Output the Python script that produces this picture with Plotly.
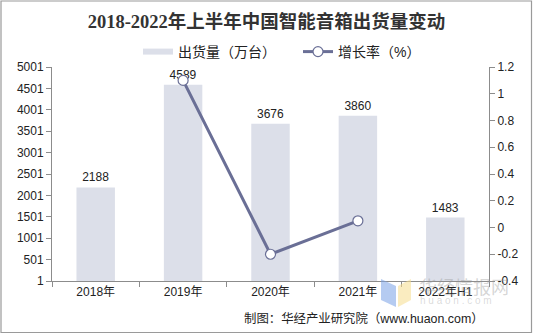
import plotly.graph_objects as go

# Shipments of smart speakers in China, H1 data for 2022
years = ["2018年", "2019年", "2020年", "2021年", "2022年H1"]
shipments = [2188, 4589, 3676, 3860, 1483]          # 万台
growth = [None, 1.10, -0.20, 0.05, None]             # 增长率

left_ticks = [1, 501, 1001, 1501, 2001, 2501, 3001, 3501, 4001, 4501, 5001]
right_ticks = [-0.4, -0.2, 0, 0.2, 0.4, 0.6, 0.8, 1, 1.2]
right_labels = ["-0.4", "-0.2", "0", "0.2", "0.4", "0.6", "0.8", "1", "1.2"]

W, H = 533, 334
L, R, T, B = 52, 44, 67, 53
pw, ph = W - L - R, H - T - B

FONT = "Liberation Sans, Arial, Noto Sans CJK SC, sans-serif"
BAR_COLOR = "#dcdfe9"
LINE_COLOR = "#6a6f96"
AXIS_COLOR = "#8c8c8c"

fig = go.Figure()

fig.add_trace(go.Bar(
    x=years, y=shipments, name="出货量（万台）", showlegend=False,
    marker=dict(color=BAR_COLOR, line=dict(width=0)),
    width=0.44,
    text=[str(v) for v in shipments], textposition="outside",
    textfont=dict(size=12, color="#222222", family=FONT),
    cliponaxis=False,
))

# flat swatch for the bar series in the legend
fig.add_trace(go.Scatter(
    x=[None], y=[None], name="出货量（万台）", mode="lines", legend="legend",
    line=dict(color=BAR_COLOR, width=6),
))

fig.add_trace(go.Scatter(
    x=years, y=growth, name="增长率（%）", yaxis="y2", legend="legend2",
    mode="lines+markers", connectgaps=False,
    line=dict(color=LINE_COLOR, width=3),
    marker=dict(size=10, color="white", line=dict(color=LINE_COLOR, width=1.2)),
))

def px_to_paper_x(px):
    return (px - L) / pw

def px_to_paper_y(py):
    return (H - B - py) / ph

shapes = [
    # outer frame
    dict(type="rect", xref="paper", yref="paper",
         x0=px_to_paper_x(1), x1=px_to_paper_x(531.5),
         y0=px_to_paper_y(332.5), y1=px_to_paper_y(1),
         line=dict(color="#9a9a9a", width=1.2), fillcolor="rgba(0,0,0,0)", layer="below"),
    # watermark logo blocks
    dict(type="path", xref="paper", yref="paper",
         path=f"M {px_to_paper_x(381)},{px_to_paper_y(279)} L {px_to_paper_x(396)},{px_to_paper_y(286)} "
              f"L {px_to_paper_x(396)},{px_to_paper_y(307)} L {px_to_paper_x(381)},{px_to_paper_y(300)} Z",
         fillcolor="rgba(120,160,230,0.55)", line=dict(width=0), layer="above"),
    dict(type="path", xref="paper", yref="paper",
         path=f"M {px_to_paper_x(398)},{px_to_paper_y(286)} L {px_to_paper_x(411)},{px_to_paper_y(279)} "
              f"L {px_to_paper_x(411)},{px_to_paper_y(300)} L {px_to_paper_x(398)},{px_to_paper_y(307)} Z",
         fillcolor="rgba(245,220,140,0.55)", line=dict(width=0), layer="above"),
]

annotations = [
    dict(text="制图：华经产业研究院（www.huaon.com）", xref="paper", yref="paper",
         x=px_to_paper_x(486), y=px_to_paper_y(318), xanchor="right", yanchor="middle",
         showarrow=False, font=dict(size=12.4, color="#222222", family=FONT)),
    dict(text="华经情报网", xref="paper", yref="paper",
         x=px_to_paper_x(417), y=px_to_paper_y(286), xanchor="left", yanchor="middle",
         showarrow=False, font=dict(size=18, color="rgba(150,150,150,0.4)",
                                    family="Noto Sans CJK SC, sans-serif")),
    dict(text="h u a o n . c o m", xref="paper", yref="paper",
         x=px_to_paper_x(418), y=px_to_paper_y(300), xanchor="left", yanchor="middle",
         showarrow=False, font=dict(size=10, color="rgba(150,150,150,0.35)", family=FONT)),
]

legend_style = dict(orientation="h", yanchor="middle", y=px_to_paper_y(52),
                    xanchor="left", font=dict(size=14, color="#222222", family=FONT),
                    itemwidth=30, bgcolor="rgba(0,0,0,0)")

fig.update_layout(
    width=W, height=H,
    margin=dict(l=L, r=R, t=T, b=B),
    paper_bgcolor="white", plot_bgcolor="white",
    font=dict(family=FONT, size=12, color="#222222"),
    title=dict(text="<b>2018-2022年上半年中国智能音箱出货量变动</b>",
               x=0.5, xanchor="center", y=1 - 22 / H, yanchor="middle",
               font=dict(size=18.5, color="#333333",
                         family="Liberation Serif, Noto Sans CJK SC, serif")),
    showlegend=True,
    legend=dict(x=px_to_paper_x(138), **legend_style),
    legend2=dict(x=px_to_paper_x(298), **legend_style),
    bargap=0.56,
    xaxis=dict(showline=True, linecolor=AXIS_COLOR, linewidth=1,
               ticks="outside", tickson="boundaries", ticklen=5, tickcolor=AXIS_COLOR,
               showgrid=False, tickfont=dict(size=12, color="#222222")),
    yaxis=dict(range=[1, 5001], tickvals=left_ticks, showline=True,
               linecolor=AXIS_COLOR, linewidth=1, ticks="outside", ticklen=5,
               tickcolor=AXIS_COLOR, showgrid=False, zeroline=False,
               tickfont=dict(size=12, color="#222222")),
    yaxis2=dict(range=[-0.4, 1.2], tickvals=right_ticks, ticktext=right_labels,
                overlaying="y", side="right", showline=True, linecolor=AXIS_COLOR,
                linewidth=1, ticks="outside", ticklen=5, tickcolor=AXIS_COLOR,
                showgrid=False, zeroline=False, tickfont=dict(size=12, color="#222222")),
    shapes=shapes,
    annotations=annotations,
)

fig.write_html("out.html")
